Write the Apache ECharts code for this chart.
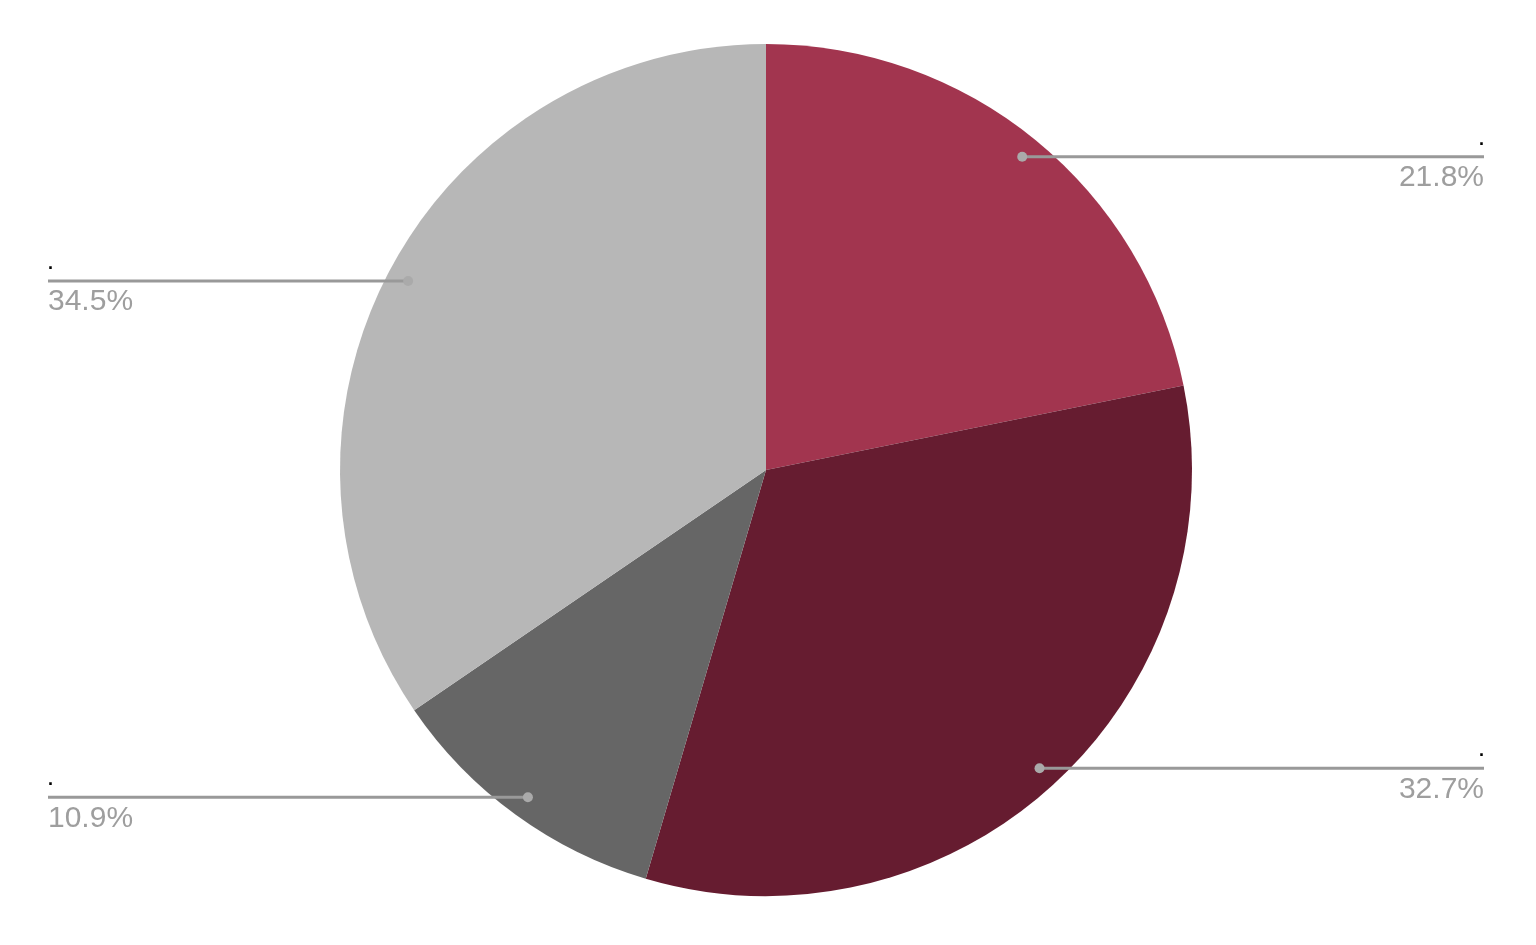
<!DOCTYPE html>
<html><head><meta charset="utf-8">
<script src="https://cdn.jsdelivr.net/npm/echarts@6/dist/echarts.min.js"></script>
<style>html,body{margin:0;padding:0;background:#fff}#c{width:1536px;height:945px}</style>
</head><body><div id="c"></div>
<script>
const categories = ['.', '.', '.', '.'];
const shares = [21.8, 32.7, 10.9, 34.5];
const colors = ['#A2354F', '#661C30', '#666666', '#B7B7B7'];

const CX = 766, CY = 470, R = 426, DOT_R = 0.95 * R;
const LEFT_X = 48, RIGHT_X = 1484;
const total = shares.reduce((a, b) => a + b, 0);
function midAngle(i) {
  let before = 0;
  for (let k = 0; k < i; k++) before += shares[k];
  return (before + shares[i] / 2) / total * 2 * Math.PI;
}
function dotPoint(i) {
  const a = midAngle(i);
  return [CX + DOT_R * Math.sin(a), CY - DOT_R * Math.cos(a)];
}

const base = { type: 'pie', center: [CX, CY], radius: R, startAngle: 90, clockwise: true, emphasis: { disabled: true } };
const chart = echarts.init(document.getElementById('c'));
chart.setOption({
  backgroundColor: '#fff',
  animation: false,
  series: [
    Object.assign({}, base, {
      z: 2,
      data: categories.map((n, i) => ({ name: n, value: shares[i], itemStyle: { color: colors[i] } })),
      label: { show: false }, labelLine: { show: false }
    }),
    Object.assign({}, base, {
      z: 5,
      silent: true,
      data: categories.map((n, i) => ({ name: n, value: shares[i] })),
      itemStyle: { color: 'rgba(0,0,0,0)' },
      label: {
        show: true,
        formatter: p => '{n|' + p.name + '}\n{p|' + p.value.toFixed(1) + '%}',
        rich: {
          n: { fontSize: 18, fontWeight: 'bold', color: '#000', lineHeight: 34, fontFamily: 'Liberation Sans' },
          p: { fontSize: 30, color: '#9E9E9E', lineHeight: 42, fontFamily: 'Liberation Sans' }
        }
      },
      labelLine: { show: true, lineStyle: { color: '#999', width: 3 } },
      labelLayout: function (params) {
        const pt = dotPoint(params.dataIndex);
        const right = pt[0] > CX;
        const ex = right ? RIGHT_X : LEFT_X;
        return {
          x: ex, y: pt[1] - 34, align: right ? 'right' : 'left', verticalAlign: 'top',
          labelLinePoints: [[pt[0], pt[1]], [ex, pt[1]], [ex, pt[1]]]
        };
      }
    }),
    Object.assign({}, base, {
      z: 8,
      silent: true,
      data: categories.map((n, i) => ({ name: n, value: shares[i] })),
      itemStyle: { color: 'rgba(0,0,0,0)' },
      label: {
        show: true, formatter: '{d|}',
        rich: { d: { width: 10, height: 10, borderRadius: 5, backgroundColor: '#AAAAAA' } }
      },
      labelLine: { show: false },
      labelLayout: function (params) {
        const pt = dotPoint(params.dataIndex);
        return { x: pt[0], y: pt[1], align: 'center', verticalAlign: 'middle' };
      }
    })
  ]
});
</script>
</body></html>
